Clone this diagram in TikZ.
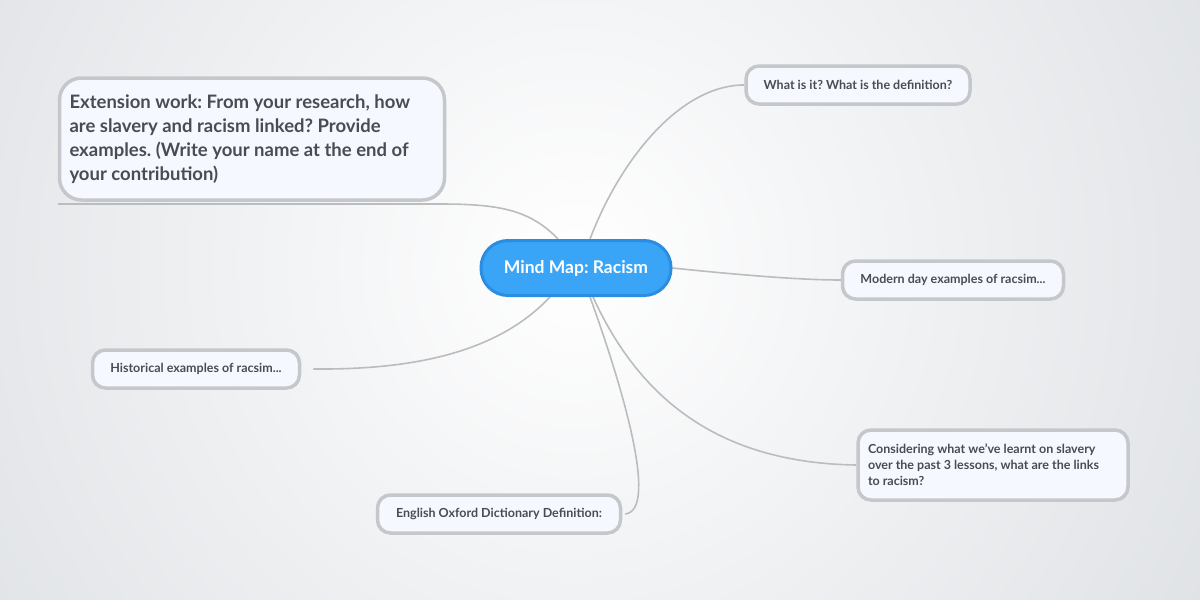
\documentclass[tikz,border=0pt]{standalone}
\usepackage{fontspec}
\setmainfont{Lato}
\usetikzlibrary{backgrounds}
\frenchspacing
\hyphenpenalty=10000
\exhyphenpenalty=10000
\begin{document}
\begin{tikzpicture}[x=1pt,y=-1pt]
\definecolor{bg}{HTML}{DCDFE3}
\definecolor{txt}{HTML}{4A4C55}
\definecolor{bord}{HTML}{C5C7CA}
\definecolor{boxf}{HTML}{F5F9FF}
\definecolor{ctr}{HTML}{3AA5F7}
\definecolor{ctrb}{HTML}{2A8DE0}
\definecolor{lnk}{HTML}{BBBCBE}
\tikzset{
 topic/.style={draw=bord,line width=3.5pt,fill=boxf,rounded corners=13pt,text=txt,font=\bfseries\fontsize{12.5}{16}\selectfont,inner xsep=10pt,inner ysep=8pt,minimum height=38pt},
 link/.style={draw=lnk,line width=1.6pt}
}
\useasboundingbox (0,0) rectangle (1200,600);
\node[draw=ctrb,line width=3pt,fill=ctr,rounded corners=27pt,minimum width=190pt,minimum height=55pt,text=white,font=\bfseries\fontsize{17.5}{20}\selectfont] (c) at (576,268) {Mind Map: Racism};
\node[topic,rounded corners=22pt,text width=365pt,align=flush left,font=\bfseries\fontsize{18.5}{24}\selectfont,minimum height=122pt] (ext) at (252,139) {Extension work: From your research, how are slavery and racism linked? Provide examples. (Write your name at the end of your contribution)};
\node[topic,minimum width=224pt] (what) at (858,85) {What is it? What is the definition?};
\node[topic,minimum width=221pt] (mod) at (953,280) {Modern day examples of racsim...};
\node[topic,text width=250pt,align=flush left,minimum height=70pt] (cons) at (993,465) {Considering what we've learnt on slavery over the past 3 lessons, what are the links\\to racism?};
\node[topic,minimum width=243pt] (eng) at (499,514) {English Oxford Dictionary Definition:};
\node[topic,minimum width=207pt] (his) at (196,369) {Historical examples of racsim...};
\coordinate (extend) at (58,204);
\begin{scope}[on background layer]
\fill[bg] (0,0) rectangle (1200,600);
\begin{scope}
\clip (0,0) rectangle (1200,600);
\shade[inner color=white,outer color=bg] (575,265) circle (800);
\end{scope}
\draw[link] ([xshift=14pt]c.north) .. controls (620,160) and (680,85) .. (what.west);
\draw[link] ([xshift=-18pt]c.north) .. controls (530,210) and (500,204) .. (440,204) -- (extend);
\draw[link] (c.east) .. controls (740,275) and (800,280) .. (mod.west);
\draw[link] ([xshift=17pt]c.south) .. controls (640,400) and (720,463) .. (cons.west);
\draw[link] ([xshift=14pt]c.south) .. controls (620,380) and (660,510) .. ([xshift=3pt]eng.east);
\draw[link] ([xshift=-26pt]c.south) .. controls (500,350) and (420,370) .. ([xshift=12pt]his.east);
\end{scope}
\end{tikzpicture}
\end{document}
